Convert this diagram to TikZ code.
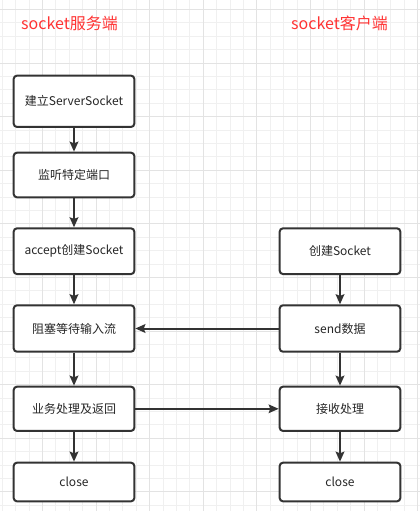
\documentclass[tikz,border=0pt]{standalone}
\usepackage{fontspec}
\usepackage{tikz}
\usepackage{xcolor}
\usetikzlibrary{positioning, calc, arrows.meta}
\newfontfamily\cjk{Noto Sans CJK SC}
\definecolor{titlered}{HTML}{FF3333}
\definecolor{boxline}{HTML}{333333}

\begin{document}
\begin{tikzpicture}[x=0.75pt, y=-0.75pt,
    stepbox/.style={draw=boxline, line width=1.5pt, rounded corners=2.5pt, fill=white,
        minimum width=90.5pt, inner sep=0pt, font=\cjk\fontsize{9}{11}\selectfont, text=black!85},
    title/.style={font=\cjk\fontsize{12}{14}\selectfont, text=titlered},
    flow/.style={draw=boxline, line width=1.5pt, -{Stealth[length=7.5pt, width=6.5pt, inset=1.2pt]}}]
    \useasboundingbox[fill=white] (0,0) rectangle (420,511);
    % grid
    \foreach \k in {0,...,31} \draw[black!6, line width=0.75pt] ({2.3+13.4*\k},0) -- ({2.3+13.4*\k},511);
    \foreach \k in {0,...,37} \draw[black!6, line width=0.75pt] (0,{9.4+13.4*\k}) -- (420,{9.4+13.4*\k});
    \foreach \k in {0,...,7} \draw[black!11, line width=0.75pt] ({42.5+53.6*\k},0) -- ({42.5+53.6*\k},511);
    \foreach \k in {0,...,9} \draw[black!11, line width=0.75pt] (0,{9.4+53.6*\k}) -- (420,{9.4+53.6*\k});

    \node[title] (server) at (69.5,23) {socket服务端};
    \node[title] (client) at (339.5,23) {socket客户端};

    % server side
    \node[stepbox, minimum height=38.5pt] (listen) at (74,101.3) {建立ServerSocket};
    \node[stepbox, minimum height=33.5pt] (port) at (74,175) {监听特定端口};
    \node[stepbox, minimum height=34.3pt] (accept) at (74,251.2) {accept创建Socket};
    \node[stepbox, minimum height=34.8pt] (block) at (74,328.5) {阻塞等待输入流};
    \node[stepbox, minimum height=33.2pt] (handle) at (74,408.8) {业务处理及返回};
    \node[stepbox, minimum height=29pt] (sclose) at (74,482) {close};

    % client side
    \node[stepbox, minimum height=34.3pt] (create) at (340,251.2) {创建Socket};
    \node[stepbox, minimum height=34.8pt] (send) at (340,328.5) {send数据};
    \node[stepbox, minimum height=33.2pt] (recv) at (340,408.8) {接收处理};
    \node[stepbox, minimum height=29pt] (cclose) at (340,482) {close};

    \draw[flow] (listen) -- (port);
    \draw[flow] (port) -- (accept);
    \draw[flow] (accept) -- (block);
    \draw[flow] (block) -- (handle);
    \draw[flow] (handle) -- (sclose);
    \draw[flow] (create) -- (send);
    \draw[flow] (send) -- (recv);
    \draw[flow] (recv) -- (cclose);
    \draw[flow] (send) -- (block);
    \draw[flow, line width=1.2pt] (handle) -- (recv);
\end{tikzpicture}
\end{document}
